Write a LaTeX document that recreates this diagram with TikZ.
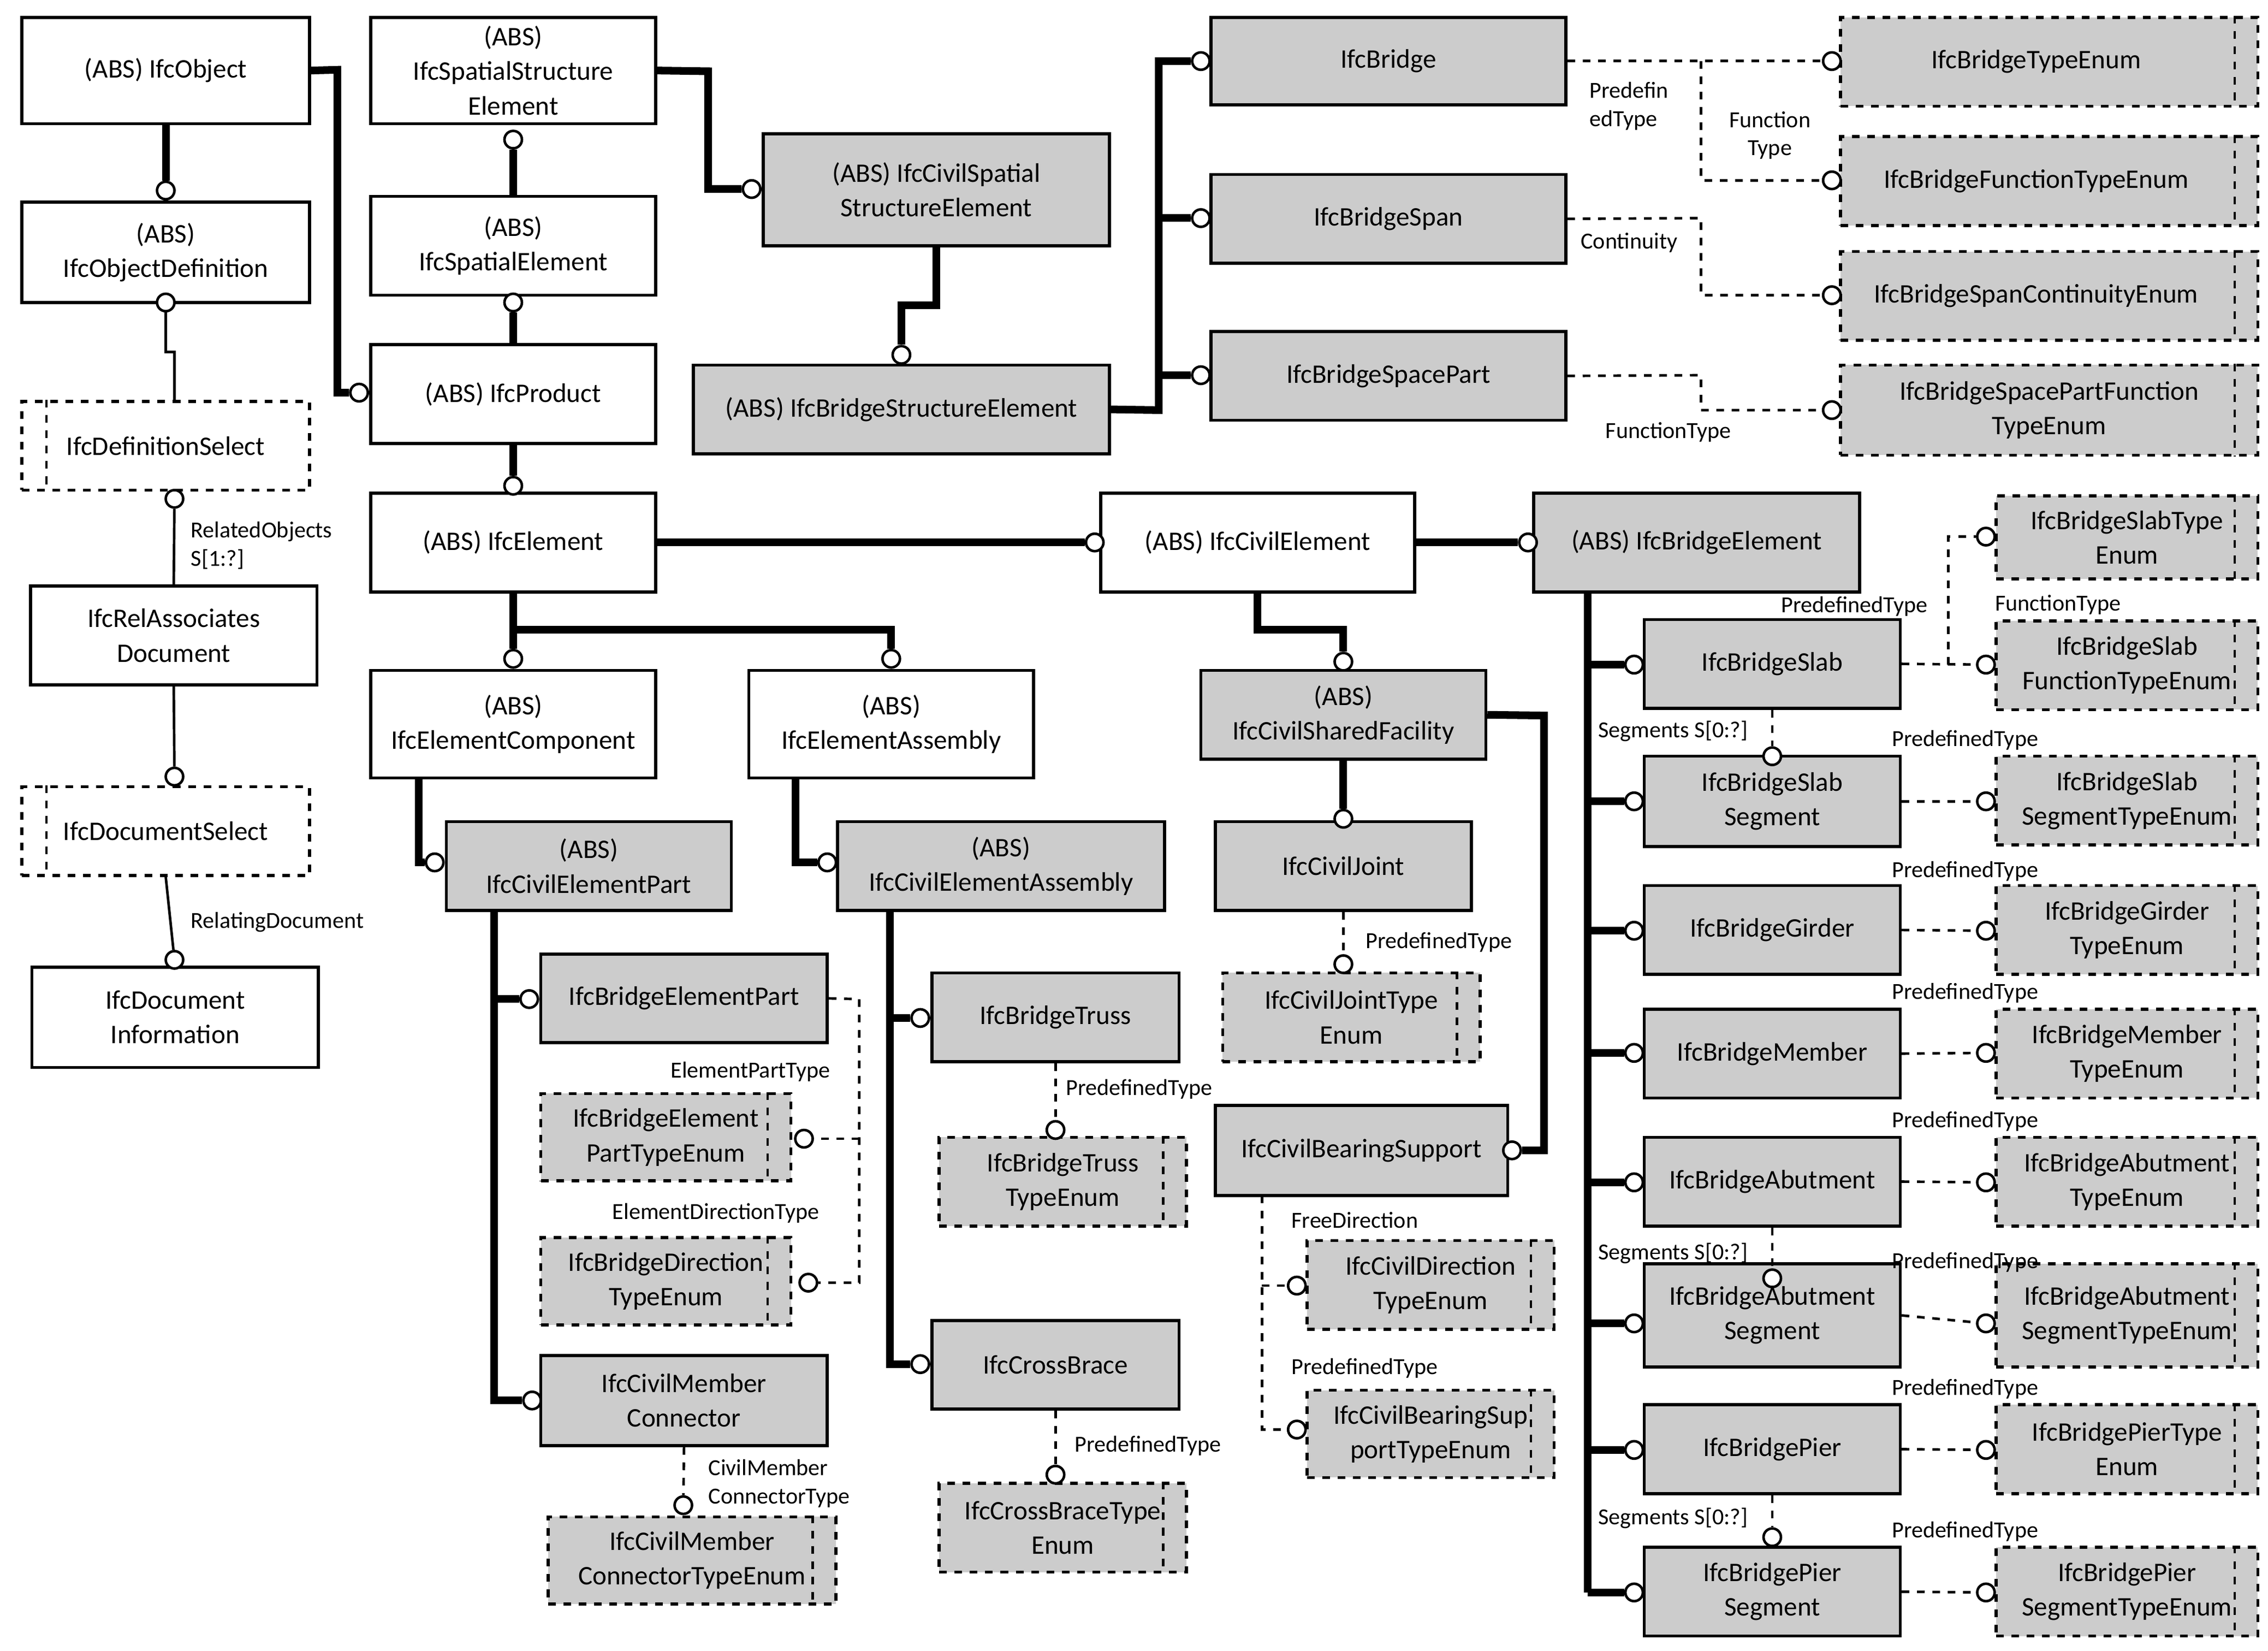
\documentclass[tikz,border=0pt]{standalone}
\usepackage{fontspec}
\setmainfont{Carlito}
\begin{document}
\begin{tikzpicture}[x=0.02cm,y=-0.02cm,
 box/.style={draw,line width=1.2pt,align=center,inner sep=0pt,font=\fontsize{10.5}{13.5}\selectfont},
 wb/.style={box,fill=white},
 gb/.style={box,fill=black!20},
 eb/.style={box,fill=black!20,dashed},
 sb/.style={box,fill=white,dashed},
 dot/.style={circle,draw,fill=white,line width=1pt,minimum size=0.24cm,inner sep=0pt},
 thk/.style={line width=3pt},
 thn/.style={line width=1pt},
 dsh/.style={line width=1pt,dashed},
 lab/.style={font=\fontsize{9}{11}\selectfont,anchor=west,inner sep=0pt,align=left}]
\useasboundingbox (0,0) rectangle (1560,1135);
\newcommand\B[7]{\node[#1,minimum width={(#5-#3)*0.02cm},minimum height={(#6-#4)*0.02cm}] (#2) at ({(#3+#5)/2},{(#4+#6)/2}) {#7};}
\newcommand\C[3]{\node[dot] (#1) at (#2,#3) {};}
% white
\B{wb}{obj}{15}{12}{213}{85}{(ABS) IfcObject}
\B{wb}{objdef}{15}{139}{213}{208}{(ABS)\\IfcObjectDefinition}
\B{sb}{defsel}{15}{276}{213}{337}{IfcDefinitionSelect}
\B{wb}{relassoc}{21}{403}{218}{471}{IfcRelAssociates\\Document}
\B{sb}{docsel}{15}{541}{213}{602}{IfcDocumentSelect}
\B{wb}{docinfo}{22}{665}{219}{734}{IfcDocument\\Information}
\B{wb}{sse}{255}{12}{451}{85}{(ABS)\\IfcSpatialStructure\\Element}
\B{wb}{se}{255}{135}{451}{203}{(ABS)\\IfcSpatialElement}
\B{wb}{prod}{255}{237}{451}{305}{(ABS) IfcProduct}
\B{wb}{elem}{255}{339}{451}{407}{(ABS) IfcElement}
\B{wb}{ecomp}{255}{461}{451}{535}{(ABS)\\IfcElementComponent}
\B{wb}{eass}{515}{461}{711}{535}{(ABS)\\IfcElementAssembly}
\B{wb}{civel}{757}{339}{973}{407}{(ABS) IfcCivilElement}
% gray
\B{gb}{cse}{525}{92}{763}{169}{(ABS) IfcCivilSpatial\\StructureElement}
\B{gb}{bse}{477}{251}{763}{312}{(ABS) IfcBridgeStructureElement}
\B{gb}{bridge}{833}{12}{1077}{72}{IfcBridge}
\B{gb}{span}{833}{120}{1077}{181}{IfcBridgeSpan}
\B{gb}{spacepart}{833}{228}{1077}{289}{IfcBridgeSpacePart}
\B{gb}{belem}{1055}{339}{1279}{407}{(ABS) IfcBridgeElement}
\B{gb}{csf}{826}{461}{1022}{522}{(ABS)\\IfcCivilSharedFacility}
\B{gb}{cjoint}{836}{565}{1012}{626}{IfcCivilJoint}
\B{gb}{cbs}{836}{760}{1037}{822}{IfcCivilBearingSupport}
\B{gb}{cep}{307}{565}{503}{626}{(ABS)\\IfcCivilElementPart}
\B{gb}{cea}{576}{565}{801}{626}{(ABS)\\IfcCivilElementAssembly}
\B{gb}{bep}{372}{656}{569}{717}{IfcBridgeElementPart}
\B{gb}{cmc}{372}{932}{569}{994}{IfcCivilMember\\Connector}
\B{gb}{btruss}{641}{669}{811}{730}{IfcBridgeTruss}
\B{gb}{cbrace}{641}{908}{811}{969}{IfcCrossBrace}
\B{gb}{bslab}{1131}{426}{1307}{487}{IfcBridgeSlab}
\B{gb}{bslabseg}{1131}{520}{1307}{582}{IfcBridgeSlab\\Segment}
\B{gb}{bgirder}{1131}{609}{1307}{670}{IfcBridgeGirder}
\B{gb}{bmember}{1131}{694}{1307}{755}{IfcBridgeMember}
\B{gb}{babut}{1131}{782}{1307}{843}{IfcBridgeAbutment}
\B{gb}{babutseg}{1131}{869}{1307}{940}{IfcBridgeAbutment\\Segment}
\B{gb}{bpier}{1131}{966}{1307}{1027}{IfcBridgePier}
\B{gb}{bpierseg}{1131}{1064}{1307}{1125}{IfcBridgePier\\Segment}
% enums
\B{eb}{ebt}{1266}{12}{1553}{73}{IfcBridgeTypeEnum\hspace{0.36cm}}
\B{eb}{ebf}{1266}{94}{1553}{155}{IfcBridgeFunctionTypeEnum\hspace{0.36cm}}
\B{eb}{esc}{1266}{173}{1553}{234}{IfcBridgeSpanContinuityEnum\hspace{0.36cm}}
\B{eb}{esp}{1266}{251}{1553}{313}{IfcBridgeSpacePartFunction\\TypeEnum\hspace{0.36cm}}
\B{eb}{est}{1373}{341}{1553}{398}{IfcBridgeSlabType\\Enum\hspace{0.36cm}}
\B{eb}{esf}{1373}{427}{1553}{488}{IfcBridgeSlab\\FunctionTypeEnum}
\B{eb}{ess}{1373}{520}{1553}{581}{IfcBridgeSlab\\SegmentTypeEnum}
\B{eb}{eg}{1373}{609}{1553}{670}{IfcBridgeGirder\\TypeEnum\hspace{0.36cm}}
\B{eb}{em}{1373}{694}{1553}{755}{IfcBridgeMember\\TypeEnum\hspace{0.36cm}}
\B{eb}{ea}{1373}{782}{1553}{843}{IfcBridgeAbutment\\TypeEnum\hspace{0.36cm}}
\B{eb}{eas}{1373}{869}{1553}{940}{IfcBridgeAbutment\\SegmentTypeEnum}
\B{eb}{ep}{1373}{966}{1553}{1027}{IfcBridgePierType\\Enum\hspace{0.36cm}}
\B{eb}{eps}{1373}{1064}{1553}{1125}{IfcBridgePier\\SegmentTypeEnum}
\B{eb}{ecj}{841}{669}{1018}{730}{IfcCivilJointType\\Enum\hspace{0.36cm}}
\B{eb}{ecd}{899}{853}{1069}{914}{IfcCivilDirection\\TypeEnum\hspace{0.36cm}}
\B{eb}{ecb}{899}{956}{1069}{1016}{IfcCivilBearingSup\\portTypeEnum\hspace{0.36cm}}
\B{eb}{ebep}{372}{752}{544}{812}{IfcBridgeElement\\PartTypeEnum\hspace{0.36cm}}
\B{eb}{ebd}{372}{851}{544}{911}{IfcBridgeDirection\\TypeEnum\hspace{0.36cm}}
\B{eb}{etr}{646}{782}{816}{843}{IfcBridgeTruss\\TypeEnum\hspace{0.36cm}}
\B{eb}{ecbr}{646}{1020}{816}{1081}{IfcCrossBraceType\\Enum\hspace{0.36cm}}
\B{eb}{ecmc}{377}{1043}{575}{1103}{IfcCivilMember\\ConnectorTypeEnum}
\foreach \n in {ebt,ebf,esc,esp,est,esf,ess,eg,em,ea,eas,ep,eps,ecj,ecd,ecb,ebep,ebd,etr,ecbr,ecmc}
  \draw[dsh] ([xshift=-0.34cm]\n.north east) -- ([xshift=-0.34cm]\n.south east);
\foreach \n in {defsel,docsel}
  \draw[dsh] ([xshift=0.36cm]\n.north west) -- ([xshift=0.36cm]\n.south west);
% thick connectors
\C{c1}{247}{270} \draw[thk] (obj.east) -- (232,48) -- (232,270) -- (c1);
\C{c2}{114}{131} \draw[thk] (obj.south) -- (c2);
\C{c3}{353}{96} \draw[thk] (c3) -- (se.north);
\C{c4}{353}{208} \draw[thk] (c4) -- (prod.north);
\C{c5}{353}{334} \draw[thk] (prod.south) -- (c5);
\C{c6}{517}{130} \draw[thk] (sse.east) -- (487,49) -- (487,130) -- (c6);
\C{c7}{620}{244} \draw[thk] (cse.south) -- (644,210) -- (620,210) -- (c7);
\C{c8a}{826}{42}\C{c8b}{826}{150}\C{c8c}{826}{258}
\draw[thk] (bse.east) -- (797,282) -- (797,42) -- (c8a);
\draw[thk] (797,150) -- (c8b); \draw[thk] (797,258) -- (c8c);
\C{c9}{753}{373} \draw[thk] (elem.east) -- (c9);
\C{c10}{1051}{373} \draw[thk] (civel.east) -- (c10);
\C{c11a}{353}{453}\C{c11b}{613}{453}
\draw[thk] (elem.south) -- (c11a); \draw[thk] (353,433) -- (613,433) -- (c11b);
\C{c12}{924}{455} \draw[thk] (865,407) -- (865,433) -- (924,433) -- (c12);
\C{c13}{924}{563} \draw[thk] (csf.south) -- (c13);
\C{c14}{1040}{791} \draw[thk] (csf.east) -- (1062,492) -- (1062,791) -- (c14);
\C{c15}{299}{593} \draw[thk] (288,535) -- (288,593) -- (c15);
\C{c16}{569}{593} \draw[thk] (547,535) -- (547,593) -- (c16);
\C{c17a}{364}{687}\C{c17b}{366}{963}
\draw[thk] (340,626) -- (340,963) -- (c17b); \draw[thk] (340,687) -- (c17a);
\C{c18a}{633}{700}\C{c18b}{633}{938}
\draw[thk] (612,626) -- (612,938) -- (c18b); \draw[thk] (612,700) -- (c18a);
\draw[thk] (1092,407) -- (1092,1095);
\foreach \y/\n in {457/d1,551/d2,640/d3,724/d4,813/d5,910/d6,997/d7,1095/d8}{
  \C{\n}{1124}{\y} \draw[thk] (1092,\y) -- (\n);}
% thin solid
\C{t1}{114}{208} \draw[thn] (t1) -- (114,242) -- (120,242) -- (120,276);
\C{t2}{120}{343} \draw[thn] (t2) -- (relassoc.north);
\node[lab] at (131,375) {RelatedObjects\\S[1:?]};
\C{t3}{120}{534} \draw[thn] (relassoc.south) -- (t3);
\C{t4}{120}{660} \draw[thn] (docsel.south) -- (t4);
\node[lab] at (131,634) {RelatingDocument};
% dashed
\C{e1}{1260}{42} \draw[dsh] (bridge.east) -- (e1);
\C{e2}{1260}{124} \draw[dsh] (1170,42) -- (1170,124) -- (e2);
\node[lab] at (1093,73) {Predefin\\edType};
\node[lab,align=center] at (1189,93) {Function\\Type};
\C{e3}{1260}{203} \draw[dsh] (span.east) -- (1170,150) -- (1170,203) -- (e3);
\node[lab] at (1087,167) {Continuity};
\C{e4}{1260}{282} \draw[dsh] (spacepart.east) -- (1170,258) -- (1170,282) -- (e4);
\node[lab] at (1104,297) {FunctionType};
\C{e5}{1366}{369}\C{e6}{1366}{457}
\draw[dsh] (bslab.east) -- (e6); \draw[dsh] (1340,457) -- (1340,369) -- (e5);
\node[lab] at (1225,417) {PredefinedType};
\node[lab] at (1372,416) {FunctionType};
\C{s1}{1219}{520} \draw[dsh] (bslab.south) -- (s1);
\node[lab] at (1099,503) {Segments S[0:?]};
\C{s2}{1219}{879} \draw[dsh] (babut.south) -- (s2);
\node[lab] at (1099,862) {Segments S[0:?]};
\C{s3}{1219}{1057} \draw[dsh] (bpier.south) -- (s3);
\node[lab] at (1099,1044) {Segments S[0:?]};
\foreach \src/\y/\ly/\n in {bslabseg/551/509/f1,bgirder/640/599/f2,bmember/724/683/f3,babut/813/771/f4,babutseg/910/868/f5,bpier/997/955/f6,bpierseg/1095/1053/f7}{
  \C{\n}{1366}{\y} \draw[dsh] (\src.east) -- (\n);
  \node[lab] at (1301,\ly) {PredefinedType};}
\C{g1}{924}{663} \draw[dsh] (cjoint.south) -- (g1);
\node[lab] at (939,648) {PredefinedType};
\C{g2}{726}{777} \draw[dsh] (btruss.south) -- (g2);
\node[lab] at (733,749) {PredefinedType};
\C{g3}{726}{1014} \draw[dsh] (cbrace.south) -- (g3);
\node[lab] at (739,994) {PredefinedType};
\C{g4}{470}{1035} \draw[dsh] (cmc.south) -- (g4);
\node[lab] at (487,1020) {CivilMember\\ConnectorType};
\C{g5}{553}{783}\C{g6}{556}{882}
\draw[dsh] (bep.east) -- (591,687) -- (591,882) -- (g6); \draw[dsh] (591,783) -- (g5);
\node[lab] at (461,737) {ElementPartType};
\node[lab] at (421,834) {ElementDirectionType};
\C{g7}{892}{884}\C{g8}{892}{983}
\draw[dsh] (868,822) -- (868,983) -- (g8); \draw[dsh] (868,884) -- (g7);
\node[lab] at (888,839) {FreeDirection};
\node[lab] at (888,941) {PredefinedType};
\end{tikzpicture}
\end{document}
